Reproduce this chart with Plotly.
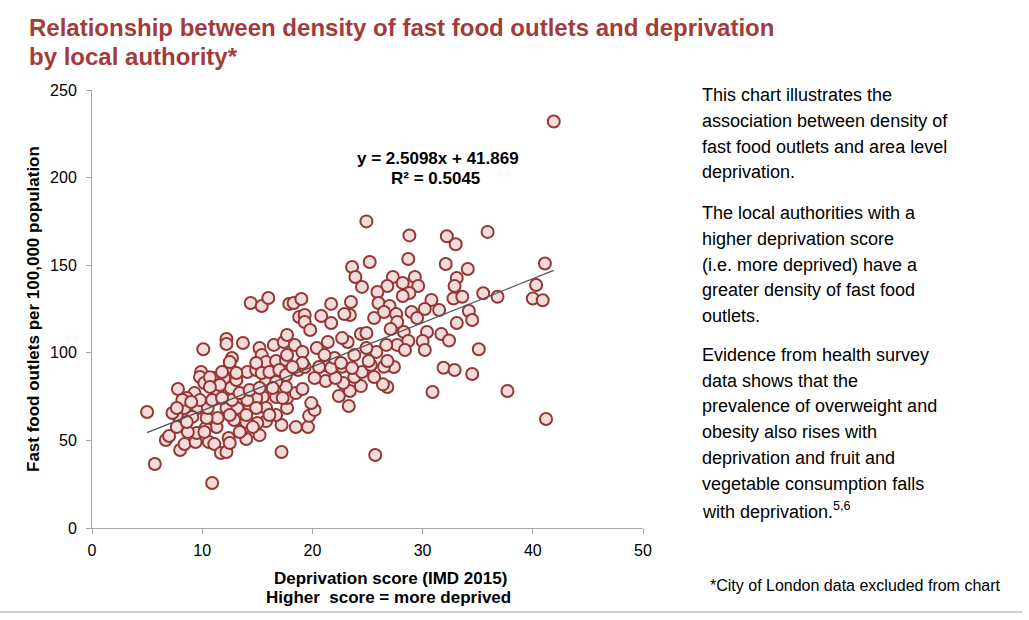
import plotly.graph_objects as go

# ---------------- data ----------------
deprivation = [
    41.9, 35.9, 32.2, 33.0, 24.9, 28.8, 41.1, 32.1, 34.1, 33.1, 32.9, 32.8, 33.6, 35.5, 36.8, 40.3,
    40.0, 40.9, 31.5, 34.2, 34.5, 33.1, 31.7, 32.4, 35.1, 31.9, 32.9, 34.5, 37.7, 41.2, 30.9, 25.7,
    17.2, 18.5, 19.6, 17.2, 19.7, 20.2, 19.9, 17.7, 17.7, 18.5, 19.1, 17.6, 23.3, 22.4, 23.4, 24.4,
    22.8, 21.2, 20.2, 26.8, 26.4, 25.6, 23.8, 22.1, 27.4, 24.5, 17.8, 18.7, 19.3, 21.1, 21.7, 22.7,
    23.6, 25.3, 26.5,
    5.0, 5.7, 10.9, 7.8, 6.7, 8.0, 7.0, 8.4, 9.4, 10.6, 11.1, 11.7, 12.2, 12.4, 14.0, 15.2,
    15.8, 15.0, 13.6, 11.3, 10.3, 9.5, 8.7, 7.7, 7.7, 7.3, 8.4, 9.3, 8.6, 9.9, 9.8, 10.2,
    11.1, 12.0, 11.4, 12.6, 13.1, 14.1, 14.9, 12.5, 15.8, 16.7, 15.5, 15.8, 16.7, 14.0, 12.9, 11.4,
    10.4, 9.6, 10.5, 12.2, 13.2, 14.3, 10.9, 9.8, 13.7, 8.2,
    14.4, 15.4, 16.0, 17.9, 10.1, 12.2, 12.2, 13.7, 15.2, 16.5, 17.4, 12.7, 12.5, 15.4, 15.8, 16.7,
    17.6, 14.9,
    25.2, 28.7, 23.6, 23.9, 24.5, 27.3, 29.3, 28.2, 29.6, 26.8, 25.9, 28.8, 28.2, 30.8, 26.0, 27.0,
    30.2, 18.3, 19.0, 21.7, 23.5, 23.4, 22.9, 20.8, 21.7, 18.8, 19.3, 19.3, 19.8, 25.6, 26.5, 27.6,
    27.7, 29.0, 29.5, 27.1, 28.3, 30.4, 30.0, 28.7, 27.7, 28.4, 30.2, 26.7, 25.8, 24.9, 24.4, 24.9,
    23.2, 22.7, 21.4, 20.4, 18.4, 17.7, 19.1, 17.7, 23.8, 25.1, 26.8, 22.0, 21.1, 22.6, 20.6, 19.1,
    10.7, 11.8, 13.1, 15.4, 16.1, 17.0, 17.6, 16.7, 17.3, 14.9, 14.1, 12.7, 11.8, 13.4, 14.3, 15.2,
    16.4, 11.6, 10.7, 9.0, 7.7, 14.9, 16.1, 14.0, 12.5, 9.1, 8.6, 10.2, 12.5, 13.4, 14.6, 18.2,
]
outlets = [
    232.0, 169.0, 166.5, 162.0, 175.0, 167.0, 151.0, 150.7, 147.8, 142.7, 138.1, 131.0, 132.0, 134.0, 132.0, 138.7,
    131.0, 130.0, 124.4, 123.9, 118.7, 117.0, 110.7, 107.0, 102.0, 91.5, 90.2, 87.9, 78.2, 62.2, 77.6, 41.7,
    43.4, 57.6, 57.6, 58.8, 64.0, 67.4, 71.3, 68.5, 74.2, 77.0, 79.3, 80.5, 69.6, 75.3, 78.2, 81.0,
    82.8, 83.9, 85.6, 80.5, 82.0, 86.2, 86.2, 85.6, 91.9, 89.0, 91.3, 90.2, 91.9, 93.0, 91.3, 92.0,
    91.3, 93.0, 92.0,
    66.2, 36.5, 25.7, 79.3, 50.2, 44.5, 52.5, 47.9, 49.1, 49.1, 47.9, 42.8, 43.4, 51.4, 50.8, 53.0,
    61.0, 59.9, 55.9, 57.6, 57.0, 54.2, 54.8, 57.6, 64.5, 65.6, 68.5, 77.0, 74.2, 89.0, 86.2, 82.8,
    85.6, 85.6, 77.6, 79.9, 84.5, 89.0, 90.2, 91.9, 84.5, 83.3, 74.8, 68.5, 64.5, 60.5, 61.6, 62.8,
    62.8, 68.5, 68.5, 68.5, 68.5, 70.2, 73.1, 73.0, 74.2, 73.1,
    128.4, 126.7, 131.3, 127.9, 102.0, 107.9, 105.0, 105.6, 102.7, 104.5, 106.2, 97.0, 94.7, 98.7, 94.7, 95.3,
    95.9, 94.2,
    151.8, 153.5, 149.0, 143.3, 137.6, 143.3, 143.3, 139.8, 138.1, 138.1, 134.7, 134.1, 132.4, 130.1, 128.4, 126.7,
    125.0, 128.4, 130.7, 127.9, 129.0, 121.6, 122.1, 121.0, 117.0, 120.4, 121.6, 117.6, 113.0, 119.9, 123.3, 122.1,
    117.6, 123.3, 119.9, 113.6, 111.9, 111.9, 106.7, 106.7, 104.5, 101.6, 101.6, 104.5, 100.5, 102.7, 110.7, 111.3,
    106.2, 108.4, 106.2, 102.7, 104.5, 110.2, 100.5, 98.7, 98.7, 95.3, 95.3, 97.0, 98.7, 94.2, 91.9, 94.2,
    86.0, 89.0, 88.5, 88.5, 89.0, 90.2, 87.3, 74.8, 74.2, 74.2, 73.1, 73.1, 74.2, 77.0, 78.8, 79.9,
    79.9, 81.6, 80.5, 71.9, 68.5, 68.5, 64.5, 64.5, 64.5, 63.4, 60.5, 54.8, 48.5, 54.8, 57.6, 91.9,
]

# linear trend shown on the chart
slope = 2.5098
intercept = 41.869
r_squared = 0.5045

x_ticks = [0, 10, 20, 30, 40, 50]
y_ticks = [0, 50, 100, 150, 200, 250]

title_lines = [
    "Relationship between density of fast food outlets and deprivation",
    "by local authority*",
]
side_lines = [
    "This chart illustrates the",
    "association between density of",
    "fast food outlets and area level",
    "deprivation.",
    "The local authorities with a",
    "higher deprivation score",
    "(i.e. more deprived) have a",
    "greater density of fast food",
    "outlets.",
    "Evidence from health survey",
    "data shows that the",
    "prevalence of overweight and",
    "obesity also rises with",
    "deprivation and fruit and",
    "vegetable consumption falls",
    "with deprivation.<sup>5,6</sup>",
]
footnote = "*City of London data excluded from chart"

# ---------------- layout helpers ----------------
W, H = 1029, 620
L, R, T, B = 92, 643, 90, 528  # plot area in pixels


def pxx(px):
    return (px - L) / (R - L)


def pxy(py):
    return (B - py) / (B - T)


side_y_px = [95, 121, 147, 172, 213, 239, 265, 290, 316, 355, 381, 406, 432, 458, 484, 510]

FONT = "Liberation Sans, Arial, sans-serif"

fig = go.Figure()

fig.add_trace(go.Scatter(
    x=deprivation, y=outlets, mode="markers",
    marker=dict(size=12, color="#F2DCDB", line=dict(color="#953735", width=2)),
    showlegend=False, hoverinfo="x+y",
))

x_line = [min(deprivation), max(deprivation)]
y_line = [slope * v + intercept for v in x_line]
fig.add_trace(go.Scatter(
    x=x_line, y=y_line, mode="lines",
    line=dict(color="#555555", width=1.3),
    showlegend=False, hoverinfo="skip",
))

annotations = []
# title
for txt, ypx in zip(title_lines, [28, 57]):
    annotations.append(dict(
        text=f"<b>{txt}</b>", xref="paper", yref="paper", x=pxx(27), y=pxy(ypx),
        xanchor="left", yanchor="middle", showarrow=False,
        font=dict(family=FONT, size=24, color="#A33B3B"),
    ))
# side text
for txt, ypx in zip(side_lines, side_y_px):
    annotations.append(dict(
        text=txt, xref="paper", yref="paper", x=pxx(700), y=pxy(ypx),
        xanchor="left", yanchor="middle", showarrow=False,
        font=dict(family=FONT, size=18, color="#000000"),
    ))
# footnote
annotations.append(dict(
    text=footnote, xref="paper", yref="paper", x=pxx(1003), y=pxy(585),
    xanchor="right", yanchor="middle", showarrow=False,
    font=dict(family=FONT, size=16, color="#000000"),
))
# equation
annotations.append(dict(
    text=f"<b>y = {slope}x + {intercept}</b>", xref="paper", yref="paper",
    x=pxx(438), y=pxy(158), xanchor="center", yanchor="middle", showarrow=False,
    font=dict(family=FONT, size=17, color="#000000"),
))
annotations.append(dict(
    text=f"<b>R² = {r_squared}</b>", xref="paper", yref="paper",
    x=pxx(435), y=pxy(178), xanchor="center", yanchor="middle", showarrow=False,
    font=dict(family=FONT, size=17, color="#000000"),
))
# axis titles
annotations.append(dict(
    text="<b>Deprivation score (IMD 2015)</b>", xref="paper", yref="paper",
    x=pxx(391), y=pxy(578), xanchor="center", yanchor="middle", showarrow=False,
    font=dict(family=FONT, size=17, color="#000000"),
))
annotations.append(dict(
    text="<b>Higher  score = more deprived</b>", xref="paper", yref="paper",
    x=pxx(388), y=pxy(597), xanchor="center", yanchor="middle", showarrow=False,
    font=dict(family=FONT, size=17, color="#000000"),
))
annotations.append(dict(
    text="<b>Fast food outlets per 100,000 population</b>", xref="paper", yref="paper",
    x=pxx(33), y=pxy(309), xanchor="center", yanchor="middle", showarrow=False,
    textangle=-90, font=dict(family=FONT, size=17, color="#000000"),
))

fig.update_layout(
    width=W, height=H,
    margin=dict(l=L, r=W - R, t=T, b=H - B, pad=0),
    paper_bgcolor="white", plot_bgcolor="white",
    font=dict(family=FONT, color="#000000"),
    annotations=annotations,
    shapes=[dict(type="line", xref="paper", yref="paper",
                 x0=pxx(0), x1=pxx(1022), y0=pxy(612), y1=pxy(612),
                 line=dict(color="#BFBFBF", width=1.5))],
)
fig.update_xaxes(
    range=[0, 50], tickvals=x_ticks, showgrid=False, zeroline=False,
    showline=True, linecolor="#A6A6A6", linewidth=1,
    ticks="outside", ticklen=5, tickcolor="#A6A6A6",
    tickfont=dict(family=FONT, size=16, color="#000000"), ticklabelstandoff=3,
)
fig.update_yaxes(
    range=[0, 250], tickvals=y_ticks, showgrid=False, zeroline=False,
    showline=True, linecolor="#A6A6A6", linewidth=1,
    ticks="outside", ticklen=5, tickcolor="#A6A6A6",
    tickfont=dict(family=FONT, size=16, color="#000000"), ticklabelstandoff=6,
)

fig.write_html("out.html")
